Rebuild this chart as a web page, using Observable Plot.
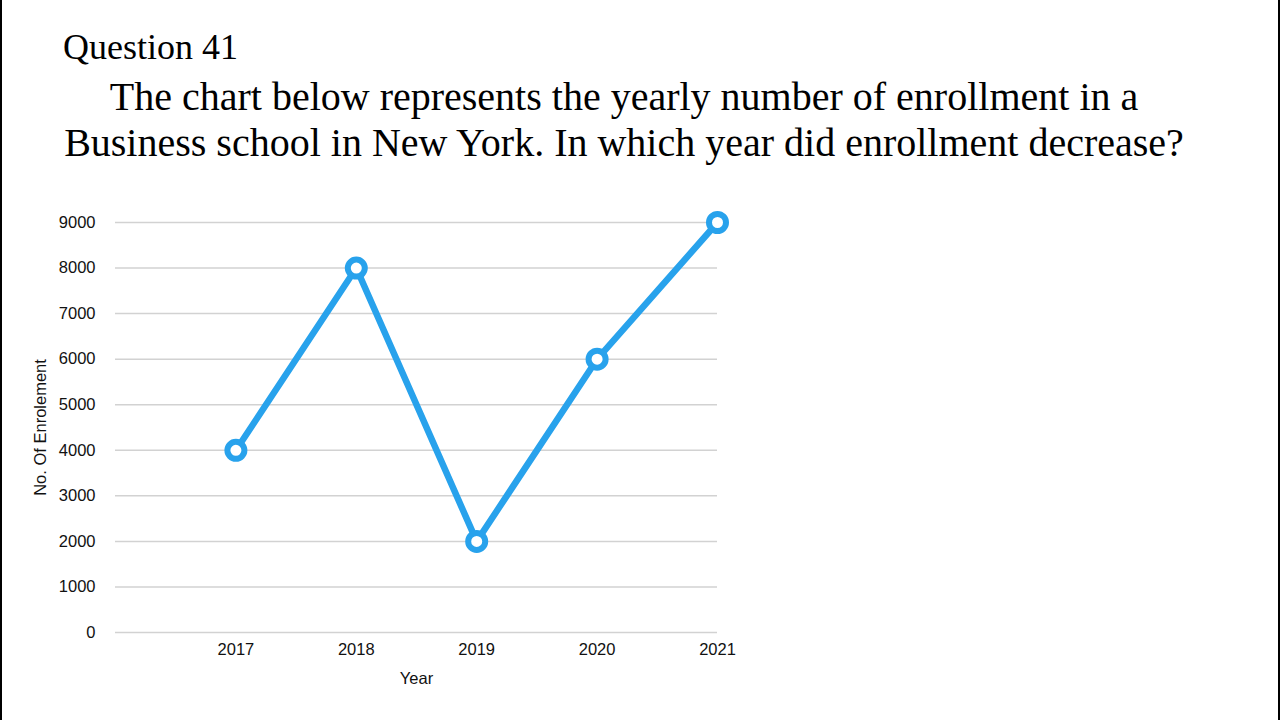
<!DOCTYPE html>
<html>
<head>
<meta charset="utf-8">
<script src="https://cdn.jsdelivr.net/npm/d3@7"></script>
<script src="https://cdn.jsdelivr.net/npm/@observablehq/plot@0.6"></script>
<style>
  html, body { margin: 0; padding: 0; background: #fff; }
  #page { position: relative; width: 1280px; height: 720px; overflow: hidden; background: #fff; }
  .edge { position: absolute; top: 0; width: 2px; height: 720px; background: #000; }
  #q { position: absolute; left: 63px; top: 26px; font-family: "Liberation Serif", "Times New Roman", serif; font-size: 36px; line-height: 42px; color: #000; white-space: nowrap; }
  #title { position: absolute; left: 0; width: 1248px; top: 74px; text-align: center; font-family: "Liberation Serif", "Times New Roman", serif; font-size: 40px; line-height: 46px; color: #000; white-space: nowrap; }
  #chart { position: absolute; left: 0; top: 190px; }
</style>
</head>
<body>
<div id="page">
  <div class="edge" style="left:0"></div>
  <div class="edge" style="left:1278px"></div>
  <div id="q">Question 41</div>
  <div id="title">The chart below represents the yearly number of enrollment in a<br>Business school in New York. In which year did enrollment decrease?</div>
  <div id="chart"></div>
</div>
<script>
const years = [2017, 2018, 2019, 2020, 2021];
const enrollment = [4000, 8000, 2000, 6000, 9000];
const yTicks = [0, 1000, 2000, 3000, 4000, 5000, 6000, 7000, 8000, 9000];

const data = years.map((y, i) => ({year: y, value: enrollment[i]}));

const chart = Plot.plot({
  width: 760,
  height: 510,
  marginLeft: 115,
  marginRight: 43,
  marginTop: 32,
  marginBottom: 68,
  style: {fontFamily: "'Liberation Sans', Arial, Helvetica, sans-serif", fontSize: "16.5px", color: "#111", background: "transparent"},
  x: {domain: [2016, 2021]},
  y: {domain: [0, 9000]},
  marks: [
    Plot.ruleY(yTicks, {stroke: "#d2d2d2", strokeWidth: 1.5}),
    Plot.axisY({ticks: yTicks, tickSize: 0, tickPadding: 20, tickFormat: d => String(d),
      label: "No. Of Enrolement", labelAnchor: "center", labelOffset: 81, labelArrow: "none"}),
    Plot.axisX({ticks: years, tickSize: 0, tickPadding: 11, tickFormat: d => String(d),
      label: "Year", labelAnchor: "center", labelOffset: 51, labelArrow: "none"}),
    Plot.line(data, {x: "year", y: "value", stroke: "#28a2ec", strokeWidth: 6.5, strokeLinejoin: "miter"}),
    Plot.dot(data, {x: "year", y: "value", r: 8.5, fill: "#fff", stroke: "#28a2ec", strokeWidth: 6})
  ]
});
document.getElementById("chart").appendChild(chart);
</script>
</body>
</html>
